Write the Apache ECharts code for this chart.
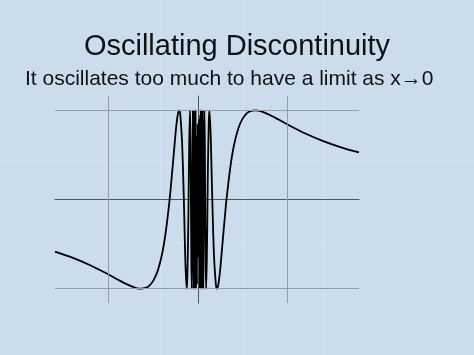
<!DOCTYPE html>
<html>
<head>
<meta charset="utf-8">
<script src="https://cdn.jsdelivr.net/npm/echarts@6/dist/echarts.min.js"></script>
<style>
html,body{margin:0;padding:0;background:#cbdded;}
#c{width:474px;height:355px;}
</style>
</head>
<body>
<div id="c"></div>
<script>
// Values (y = sin(1/x) as drawn)
var xValues = [
  -1.6, -1.4, -1.2, -1.0, -0.9, -0.8, -0.7, -0.637, -0.58, -0.55, -0.5, -0.45, -0.4, -0.36, -0.318,
  -0.3, -0.27, -0.25, -0.23, -0.212, -0.2, -0.18, -0.17, -0.159, -0.15, -0.14, -0.127, -0.12, -0.11,
  -0.106, -0.1, -0.091, -0.085, -0.0796, -0.075, -0.0707, -0.0667, -0.0637, -0.0579, -0.0531, -0.049,
  -0.0455, -0.0424, -0.0398, -0.0374, -0.0335, -0.0303, -0.0277, -0.0236, -0.019, -0.012, -0.005,
  0.004, 0.011, 0.018, 0.0236, 0.0277, 0.0303, 0.0335,
  0.0374, 0.0398, 0.0424, 0.0455, 0.049, 0.0531, 0.0579, 0.0637, 0.0667, 0.0707, 0.075, 0.0796, 0.085,
  0.0909, 0.1, 0.106, 0.11, 0.12, 0.127, 0.14, 0.15, 0.159, 0.17, 0.18, 0.2, 0.212, 0.23, 0.25, 0.27,
  0.3, 0.318, 0.36, 0.4, 0.45, 0.5, 0.55, 0.58, 0.637, 0.7, 0.8, 0.9, 1.0, 1.2, 1.4, 1.6, 1.8
];
var yValues = [
  -0.585, -0.655, -0.740, -0.841, -0.896, -0.949, -0.990, -1, -0.988, -0.970, -0.909, -0.795, -0.599, -0.355, 0,
  0.191, 0.530, 0.757, 0.933, 1, 0.959, 0.665, 0.391, 0, -0.374, -0.756, -1, -0.880, -0.335,
  0, 0.544, 1, 0.719, 0, -0.694, -1, -0.650, 0, 1, 0, -1,
  0, 1, 0, -1, 1, -1, 1, -1, 0.72, -0.95, 0.85,
  -0.65, 0.9, -1, 0.95, -1, 1, -1,
  1, 0, -1, 0, 1, 0, -1, 0, 0.650, 1, 0.694, 0, -0.719,
  -1, -0.544, 0, 0.335, 0.880, 1, 0.756, 0.374, 0, -0.391, -0.665, -0.959, -1, -0.933, -0.757, -0.530,
  -0.191, 0, 0.355, 0.599, 0.795, 0.909, 0.970, 0.988, 1, 0.990, 0.949, 0.896, 0.841, 0.740, 0.655, 0.585, 0.527
];
var gridX = [-1, 1];
var gridY = [-1, 1];
var titleText = 'Oscillating Discontinuity';
var subtitleText = 'It oscillates too much to have a limit as x\u21920';

var points = xValues.map(function (x, i) { return [x, yValues[i]]; });

var chart = echarts.init(document.getElementById('c'), null, {renderer: 'canvas'});

var seams = [];
[161, 243, 323].forEach(function (x) {
  seams.push({type: 'line', silent: true, z: -10, shape: {x1: x, y1: 0, x2: x, y2: 355},
    style: {stroke: 'rgba(255,255,255,0.22)', lineWidth: 1}});
});
[162, 243].forEach(function (y) {
  seams.push({type: 'line', silent: true, z: -10, shape: {x1: 0, y1: y, x2: 474, y2: y},
    style: {stroke: 'rgba(255,255,255,0.22)', lineWidth: 1}});
});

var markData = gridX.map(function (v) { return {xAxis: v}; })
  .concat(gridY.map(function (v) { return {yAxis: v}; }));

chart.setOption({
  backgroundColor: '#cbdded',
  animation: false,
  graphic: seams,
  title: [
    {text: titleText, left: 'center', top: 32, padding: 0,
     textStyle: {fontFamily: 'Liberation Sans, Arial, sans-serif', fontSize: 29, fontWeight: 'normal', color: '#111'}},
    {text: subtitleText, left: 25, top: 69, padding: 0,
     textStyle: {fontFamily: 'Liberation Sans, Arial, sans-serif', fontSize: 21, fontWeight: 'normal', color: '#111'}}
  ],
  grid: {left: 55, right: 115, top: 96, bottom: 52, containLabel: false},
  xAxis: {
    type: 'value', min: -1.6, max: 1.8,
    axisLine: {show: true, onZero: true, lineStyle: {color: '#555', width: 1}},
    axisTick: {show: true, customValues: gridX, length: 3, lineStyle: {color: '#555'}},
    axisLabel: {show: false},
    splitLine: {show: false}
  },
  yAxis: {
    type: 'value', min: -1.16, max: 1.16,
    axisLine: {show: true, onZero: true, lineStyle: {color: '#555', width: 1}},
    axisTick: {show: false},
    axisLabel: {show: false},
    splitLine: {show: false}
  },
  series: [{
    type: 'line',
    data: points,
    showSymbol: false,
    smooth: 0.3,
    clip: true,
    lineStyle: {color: '#000', width: 1.8},
    markLine: {
      silent: true,
      symbol: ['none', 'none'],
      label: {show: false},
      lineStyle: {color: '#939ca6', width: 1, type: 'solid'},
      data: markData
    }
  }]
});
</script>
</body>
</html>
